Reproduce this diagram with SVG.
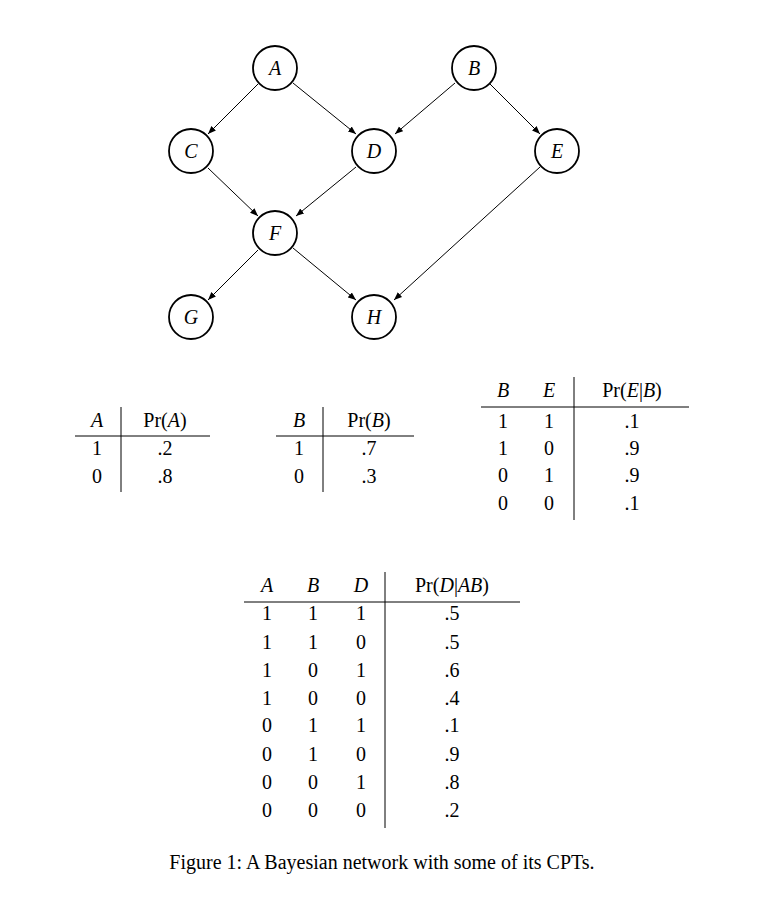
<svg xmlns="http://www.w3.org/2000/svg" width="762" height="907" viewBox="0 0 762 907">
<style>
text{font-family:"Liberation Serif","DejaVu Serif",serif;font-size:20px;fill:#000;text-anchor:middle}
.i{font-style:italic}
circle{fill:#fff;stroke:#000;stroke-width:1.8}
.e{stroke:#000;stroke-width:1;fill:none;marker-end:url(#ah)}
.r{stroke:#000;stroke-width:1}
</style>
<defs><marker id="ah" viewBox="0 0 10 10" refX="10" refY="5" markerWidth="8" markerHeight="8" markerUnits="userSpaceOnUse" orient="auto"><path d="M0,1 L10,5 L0,9 z" fill="#000"/></marker></defs>
<g id="connectors">
<line class="e" x1="258" y1="84" x2="208" y2="134"/>
<line class="e" x1="293" y1="83" x2="356" y2="134"/>
<line class="e" x1="455" y1="83" x2="395" y2="134"/>
<line class="e" x1="490" y1="84" x2="540" y2="134"/>
<line class="e" x1="208" y1="168" x2="258" y2="216"/>
<line class="e" x1="356" y1="167" x2="296" y2="216"/>
<line class="e" x1="540" y1="167" x2="394" y2="300"/>
<line class="e" x1="258" y1="250" x2="208" y2="300"/>
<line class="e" x1="293" y1="248" x2="356" y2="300"/>
</g>
<g id="A"><circle cx="275" cy="68" r="22"/><text class="i" x="275" y="75">A</text></g>
<g id="B"><circle cx="474" cy="68" r="22"/><text class="i" x="474" y="75">B</text></g>
<g id="C"><circle cx="191" cy="151" r="22"/><text class="i" x="191" y="158">C</text></g>
<g id="D"><circle cx="374" cy="151" r="22"/><text class="i" x="374" y="158">D</text></g>
<g id="E"><circle cx="557" cy="151" r="22"/><text class="i" x="557" y="158">E</text></g>
<g id="F"><circle cx="275" cy="233" r="22"/><text class="i" x="275" y="240">F</text></g>
<g id="G"><circle cx="191" cy="317" r="22"/><text class="i" x="191" y="324">G</text></g>
<g id="H"><circle cx="374" cy="317" r="22"/><text class="i" x="374" y="324">H</text></g>
<g id="tableA">
<line class="r" x1="75" y1="436" x2="210" y2="436"/><line class="r" x1="121" y1="407" x2="121" y2="492"/>
<text class="i" x="97" y="427">A</text><text x="165" y="427">Pr(<tspan class="i">A</tspan>)</text>
<text x="97" y="455">1</text><text x="165" y="455">.2</text>
<text x="97" y="483">0</text><text x="165" y="483">.8</text>
</g>
<g id="tableB">
<line class="r" x1="276" y1="436" x2="414" y2="436"/><line class="r" x1="323" y1="407" x2="323" y2="492"/>
<text class="i" x="299" y="427">B</text><text x="369" y="427">Pr(<tspan class="i">B</tspan>)</text>
<text x="299" y="455">1</text><text x="369" y="455">.7</text>
<text x="299" y="483">0</text><text x="369" y="483">.3</text>
</g>
<g id="tableE">
<line class="r" x1="481" y1="407" x2="689" y2="407"/><line class="r" x1="574" y1="377" x2="574" y2="520"/>
<text class="i" x="503" y="397">B</text><text class="i" x="549" y="397">E</text><text x="632" y="397">Pr(<tspan class="i">E</tspan>|<tspan class="i">B</tspan>)</text>
<text x="503" y="428">1</text><text x="549" y="428">1</text><text x="632" y="428">.1</text>
<text x="503" y="455">1</text><text x="549" y="455">0</text><text x="632" y="455">.9</text>
<text x="503" y="482">0</text><text x="549" y="482">1</text><text x="632" y="482">.9</text>
<text x="503" y="510">0</text><text x="549" y="510">0</text><text x="632" y="510">.1</text>
</g>
<g id="tableD">
<line class="r" x1="244" y1="602" x2="520" y2="602"/><line class="r" x1="385" y1="572" x2="385" y2="828"/>
<text class="i" x="267" y="592">A</text><text class="i" x="313" y="592">B</text><text class="i" x="361" y="592">D</text><text x="452" y="592">Pr(<tspan class="i">D</tspan>|<tspan class="i">AB</tspan>)</text>
<text x="267" y="620">1</text><text x="313" y="620">1</text><text x="361" y="620">1</text><text x="452" y="620">.5</text>
<text x="267" y="649">1</text><text x="313" y="649">1</text><text x="361" y="649">0</text><text x="452" y="649">.5</text>
<text x="267" y="677">1</text><text x="313" y="677">0</text><text x="361" y="677">1</text><text x="452" y="677">.6</text>
<text x="267" y="705">1</text><text x="313" y="705">0</text><text x="361" y="705">0</text><text x="452" y="705">.4</text>
<text x="267" y="732">0</text><text x="313" y="732">1</text><text x="361" y="732">1</text><text x="452" y="732">.1</text>
<text x="267" y="761">0</text><text x="313" y="761">1</text><text x="361" y="761">0</text><text x="452" y="761">.9</text>
<text x="267" y="789">0</text><text x="313" y="789">0</text><text x="361" y="789">1</text><text x="452" y="789">.8</text>
<text x="267" y="817">0</text><text x="313" y="817">0</text><text x="361" y="817">0</text><text x="452" y="817">.2</text>
</g>
<text x="382" y="869">Figure 1:  A Bayesian network with some of its CPTs.</text>
</svg>
